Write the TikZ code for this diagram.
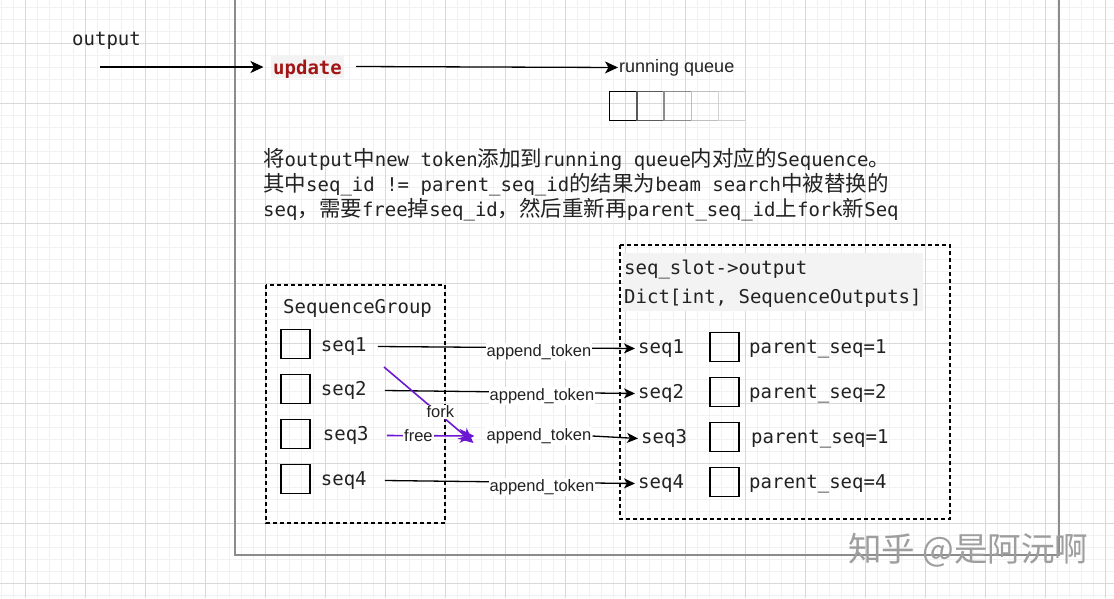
\documentclass[tikz,border=0pt]{standalone}
\usepackage{fontspec}
\setmainfont{Liberation Sans}
\newfontfamily\monofont{DejaVu Sans Mono}
\newfontfamily\cjkfont{Noto Sans CJK SC}
\usetikzlibrary{arrows.meta}
\definecolor{gridmajor}{HTML}{D8D8D8}
\definecolor{gridminor}{HTML}{F1F1F1}
\definecolor{framegray}{HTML}{8C8C8C}
\definecolor{kwred}{HTML}{A31515}
\definecolor{codebg}{HTML}{F3F3F3}
\definecolor{forkpurple}{RGB}{108,24,208}
\definecolor{textdark}{HTML}{222222}
\newcommand\zhtxt[1]{{\cjkfont\fontsize{21.5}{25}\selectfont #1}}
\begin{document}
\begin{tikzpicture}[x=1pt,y=-1pt,
  mono/.style={font=\monofont\fontsize{19}{22}\selectfont, text=textdark, inner sep=0pt, text height=13pt, text depth=4pt, anchor=base west},
  sans/.style={font=\fontsize{18}{21}\selectfont, text=textdark, inner sep=0pt, text height=13pt, text depth=4pt, anchor=base west},
  lbl/.style={font=\fontsize{16.5}{19}\selectfont, text=textdark, inner sep=1pt, fill=white},
  sq/.style={draw, line width=1.3pt, minimum size=29pt, inner sep=0pt},
  qbox/.style={draw, line width=1.3pt, minimum width=27.2pt, minimum height=29pt, inner sep=0pt, anchor=north west},
  arr/.style={line width=1.3pt, -{Stealth[length=11pt,width=10pt,inset=3pt]}},
  bigarr/.style={line width=1.3pt, -{Stealth[length=13pt,width=12pt,inset=3.5pt]}},
  parr/.style={draw=forkpurple, line width=1.6pt, -{Stealth[length=15pt,width=14pt,inset=4.5pt]}},
  dbox/.style={draw, line width=1.3pt, dash pattern=on 4pt off 3pt},
]
\useasboundingbox (0,0) rectangle (1114,598);
\clip (0,0) rectangle (1114,598);
\fill[white] (0,0) rectangle (1114,598);
% grid
\foreach \x in {1,13,...,1113} \draw[gridminor, line width=0.8pt] (\x,0) -- (\x,598);
\foreach \y in {7,19,...,595} \draw[gridminor, line width=0.8pt] (0,\y) -- (1114,\y);
\foreach \x in {25,85,...,1105} \draw[gridmajor, line width=1pt] (\x,0) -- (\x,598);
\foreach \y in {43,103,...,583} \draw[gridmajor, line width=1pt] (0,\y) -- (1114,\y);
% outer frame
\draw[framegray, line width=1.5pt] (235,-5) rectangle (1059,555);

% top row
\node[mono] (out) at (72,45) {output};
\coordinate (ostart) at (100,67);
\node[font=\monofont\bfseries\fontsize{19}{22}\selectfont, text=kwred, fill=codebg, inner sep=2pt, text height=17pt, text depth=2pt, minimum width=70pt] (upd) at (307.5,66.5) {update};
\node[sans] (rq) at (619,72) {running queue};
\draw[bigarr] (ostart) -- ([xshift=-7.5pt]upd.west |- ostart);
\draw[bigarr] ([xshift=12pt]upd.east) -- ([xshift=-1pt]rq.west);
\foreach \i/\c in {0/black, 1/black!65, 2/black!45, 3/black!25, 4/black!18}
  \node[qbox, draw=\c] (q\i) at (609+27.2*\i, 91) {};

% description
\node[mono, font=\monofont\fontsize{19}{25}\selectfont] (d1) at (263,166) {\zhtxt{将}output\zhtxt{中}new token\zhtxt{添加到}running queue\zhtxt{内对应的}Sequence\zhtxt{。}};
\node[mono, font=\monofont\fontsize{19}{25}\selectfont] (d2) at (263,191) {\zhtxt{其中}seq\_id != parent\_seq\_id\zhtxt{的结果为}beam search\zhtxt{中被替换的}};
\node[mono, font=\monofont\fontsize{19}{25}\selectfont] (d3) at (263,216) {seq\zhtxt{，需要}free\zhtxt{掉}seq\_id\zhtxt{，然后重新再}parent\_seq\_id\zhtxt{上}fork\zhtxt{新}Seq};

% left group
\draw[dbox] (266,285) rectangle (445,523);
\node[mono] (sg) at (283,313) {SequenceGroup};
\node[sq] (lb1) at (295.5,344) {};
\node[sq] (lb2) at (295.5,389) {};
\node[sq] (lb3) at (295.5,434) {};
\node[sq] (lb4) at (295.5,479) {};
\node[mono] (ls1) at (320.7,351) {seq1};
\node[mono] (ls2) at (320.7,395) {seq2};
\node[mono] (ls3) at (322.7,440) {seq3};
\node[mono] (ls4) at (320.7,485) {seq4};

% right group
\fill[codebg] (623,253) rectangle (923,311);
\draw[dbox] (620,245) rectangle (950,519);
\node[mono] (h1) at (624,274) {seq\_slot->output};
\node[mono] (h2) at (624,303) {Dict[int, SequenceOutputs]};
\node[mono] (rs1) at (638,353) {seq1};
\node[mono] (rs2) at (638,398) {seq2};
\node[mono] (rs3) at (641,443) {seq3};
\node[mono] (rs4) at (638,488) {seq4};
\node[sq] (rb1) at (724.5,347) {};
\node[sq] (rb2) at (724.5,392) {};
\node[sq] (rb3) at (724.5,437) {};
\node[sq] (rb4) at (724.5,482) {};
\node[mono] (p1) at (749,353) {parent\_seq=1};
\node[mono] (p2) at (749,398) {parent\_seq=2};
\node[mono] (p3) at (751,443) {parent\_seq=1};
\node[mono] (p4) at (749,488) {parent\_seq=4};

% connectors
\draw[arr] ([xshift=11pt]ls1.east) -- ([xshift=-3pt]rs1.west);
\draw[arr] ([xshift=18pt]ls2.east) -- ([xshift=-3pt]rs2.west);
\draw[arr] ([xshift=18pt]ls4.east) -- ([xshift=-3pt]rs4.west);
\node[lbl] (at1) at (539,352) {append\_token};
\node[lbl] (at2) at (542,396) {append\_token};
\node[lbl] (at3) at (539,436) {append\_token};
\node[lbl] (at4) at (542,487) {append\_token};
\draw[arr] (at3.east) -- ([xshift=-3pt]rs3.west);
\coordinate (fs) at (384,367);
\draw[parr] (fs) -- node[lbl, pos=0.63, yshift=3pt] (fk) {fork} ([xshift=-12pt,yshift=-7pt]at3.west);
\draw[parr] ([xshift=18pt]ls3.east) -- node[lbl, pos=0.36] (fr) {free} ([xshift=-11pt]at3.west);

% watermark
\node[font=\cjkfont\fontsize{33.5}{35}\selectfont, text=black!38, inner sep=0pt, anchor=base west] (wm) at (848,561) {知乎 @是阿沅啊};
\end{tikzpicture}
\end{document}
